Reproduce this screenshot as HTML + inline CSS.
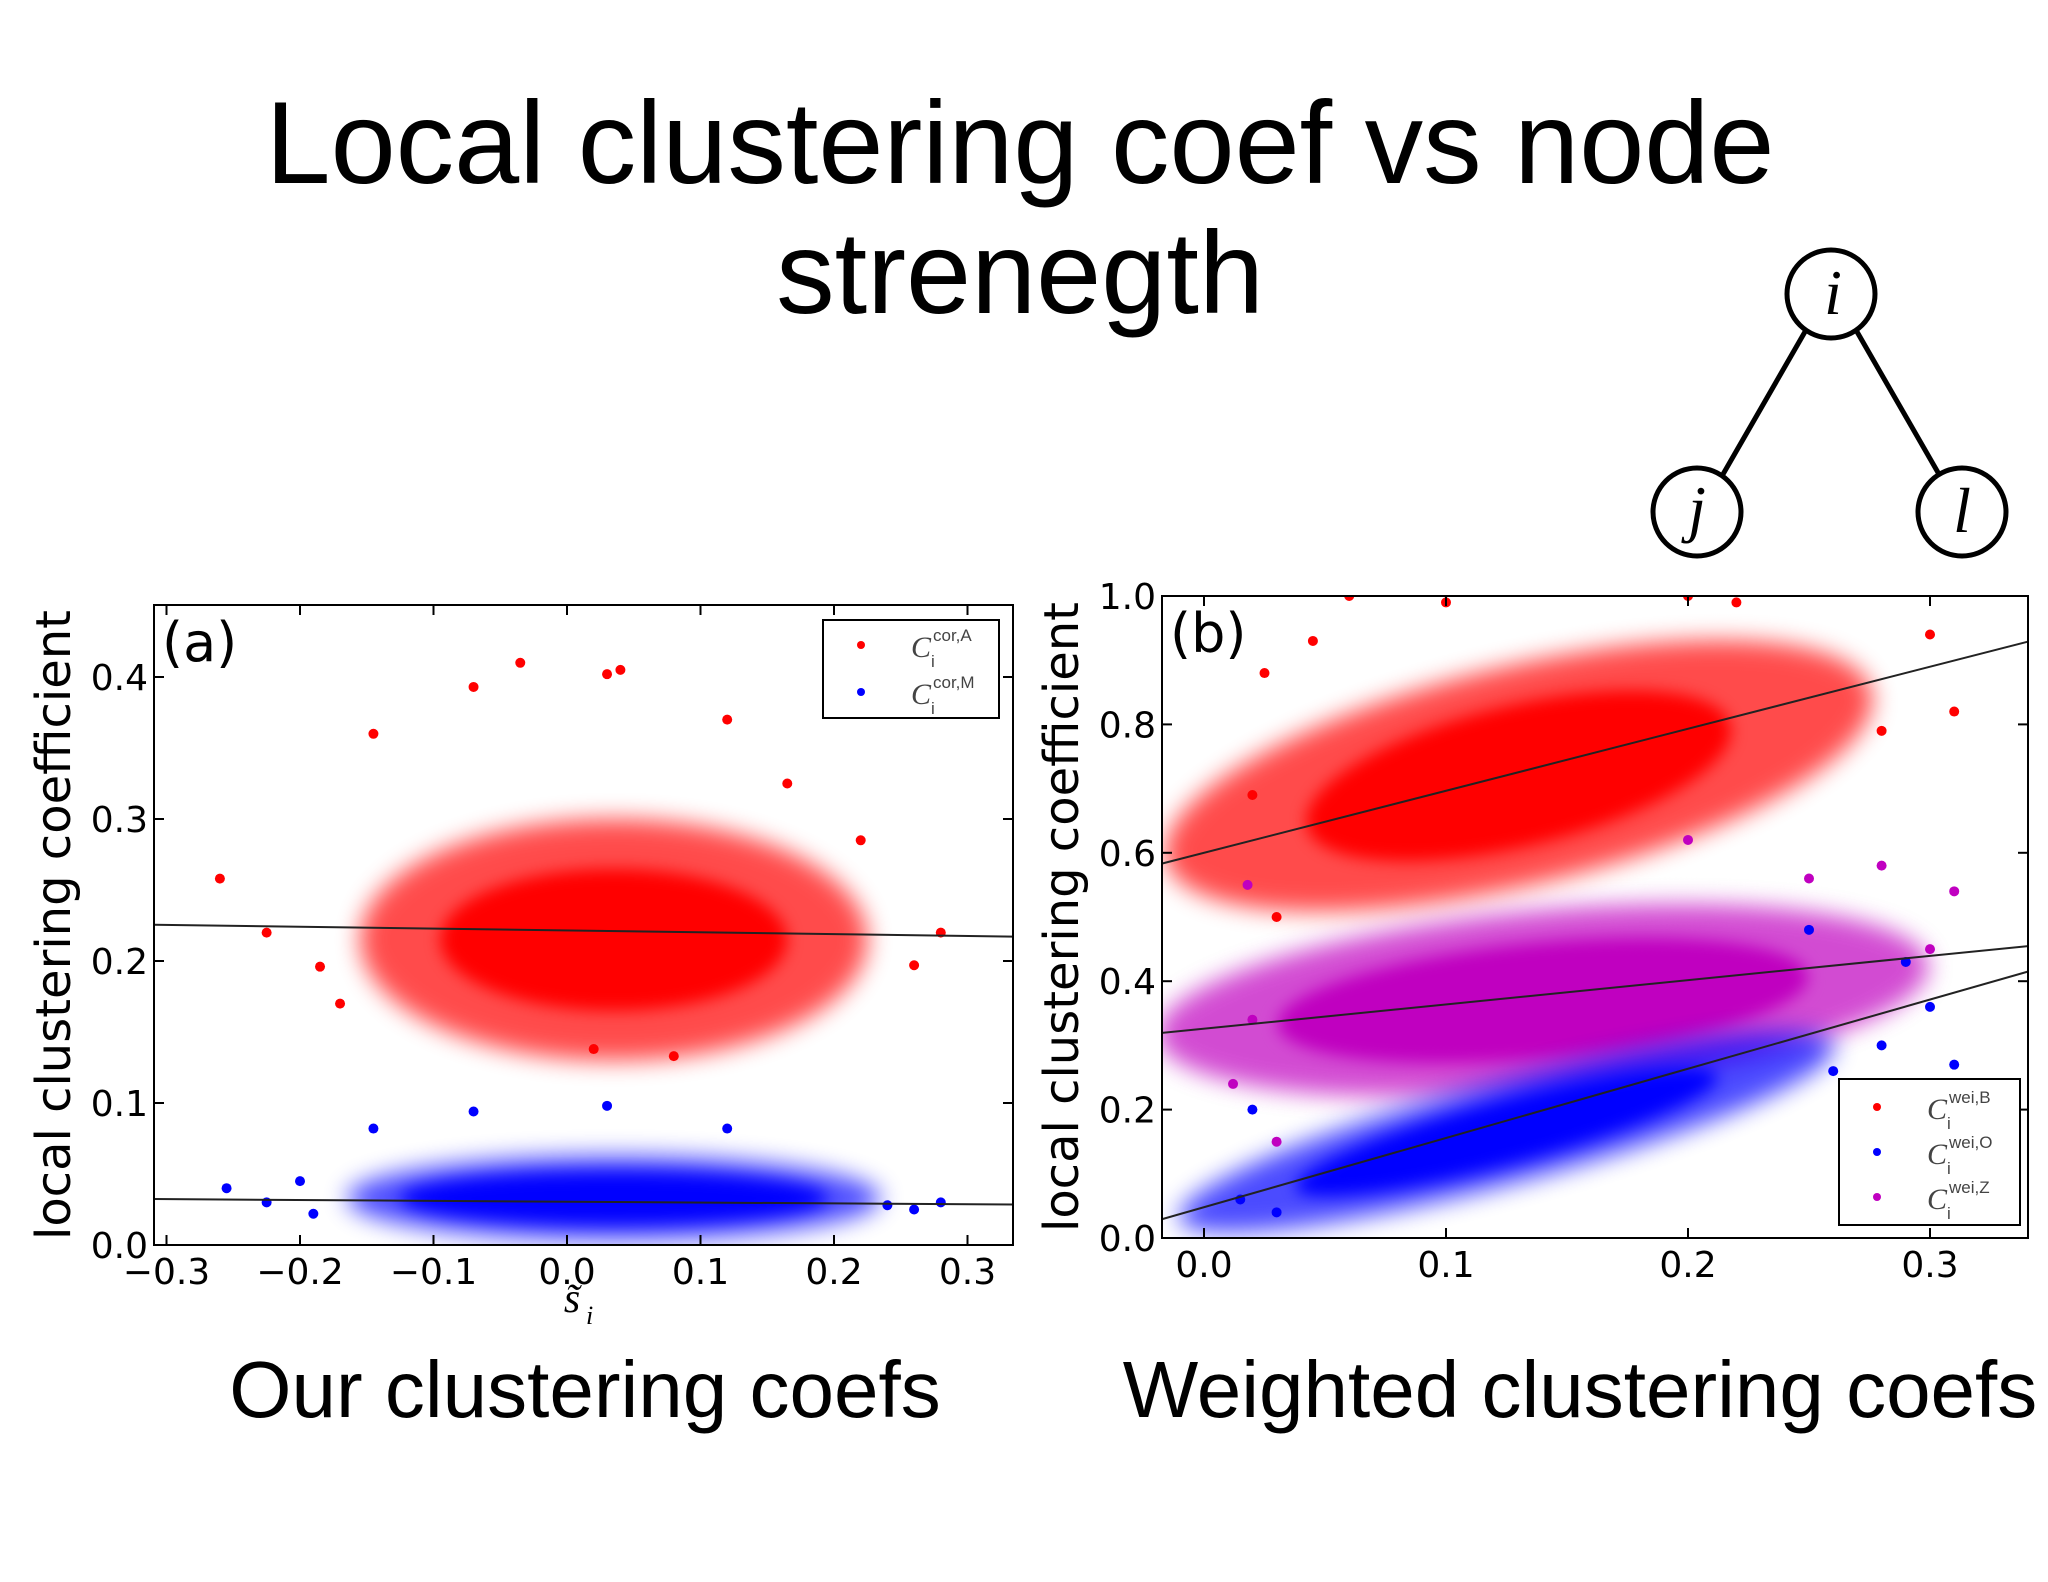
<!DOCTYPE html>
<html><head><meta charset="utf-8">
<style>
body{margin:0;background:#fff;}
svg{display:block;}
.t{font-family:"DejaVu Sans","Liberation Sans",sans-serif;fill:#000;}
</style></head>
<body>
<svg id="root" width="2048" height="1582" viewBox="0 0 2048 1582" xmlns="http://www.w3.org/2000/svg">
<defs>
<filter id="blur" x="-30%" y="-30%" width="160%" height="160%"><feGaussianBlur stdDeviation="8"/></filter>
<filter id="blur2" x="-30%" y="-30%" width="160%" height="160%"><feGaussianBlur stdDeviation="12"/></filter>
<clipPath id="clipA"><rect x="154" y="605" width="859" height="640"/></clipPath>
<clipPath id="clipB"><rect x="1162" y="596" width="866" height="642"/></clipPath>
</defs>
<g font-family="Liberation Sans, sans-serif" font-size="117" text-anchor="middle">
<text x="1020" y="183">Local clustering coef vs node</text>
<text x="1020" y="313">strenegth</text>
</g>
<g stroke="#000" stroke-width="5" fill="#fff">
<line x1="1806" y1="330" x2="1722" y2="476"/>
<line x1="1856" y1="330" x2="1940" y2="476"/>
<circle cx="1831" cy="294" r="44"/>
<circle cx="1697" cy="512" r="44"/>
<circle cx="1962" cy="512" r="44"/>
</g>
<g font-family="Liberation Serif, serif" font-style="italic" font-size="64" text-anchor="middle">
<text x="1833" y="314">i</text>
<text x="1697" y="530">j</text>
<text x="1962" y="532">l</text>
</g>
<g id="chartA"></g>
<g id="chartB"></g>
<g font-family="Liberation Sans, sans-serif" font-size="80" text-anchor="middle">
<text x="585" y="1417">Our clustering coefs</text>
<text x="1580" y="1417">Weighted clustering coefs</text>
</g>
</svg>
<script>
// ---- Chart (a) data ----
const aXTicks = [-0.3,-0.2,-0.1,0.0,0.1,0.2,0.3];
const aYTicks = [0.0,0.1,0.2,0.3,0.4];
const aSeries = ['cor,A','cor,M'];
const aColors = ['#ff0000','#0000ff'];
const aCenterX = [0.035, 0.035];
const aCenterY = [0.215, 0.033];
const aCoreSpreadX = [0.13, 0.16];
const aCoreSpreadY = [0.05, 0.018];
const aHaloSpreadX = [0.19, 0.2];
const aHaloSpreadY = [0.085, 0.03];
const aTilt = [0, 0];
const aIntercept = [0.2215, 0.0305];
const aSlope = [-0.013, -0.006];
const aOutliersRed = [[-0.26,0.258],[-0.225,0.22],[-0.185,0.196],[-0.145,0.36],[-0.07,0.393],[-0.035,0.41],[0.03,0.402],[0.04,0.405],[0.12,0.37],[0.28,0.22],[0.26,0.197],[0.08,0.133],[0.02,0.138],[-0.17,0.17],[0.22,0.285],[0.165,0.325]];
const aOutliersBlue = [[-0.255,0.04],[-0.225,0.03],[-0.19,0.022],[-0.145,0.082],[-0.07,0.094],[0.03,0.098],[0.12,0.082],[0.26,0.025],[0.28,0.03],[0.24,0.028],[-0.2,0.045]];
// ---- Chart (b) data ----
const bXTicks = [0.0,0.1,0.2,0.3];
const bYTicks = [0.0,0.2,0.4,0.6,0.8,1.0];
const bSeries = ['wei,B','wei,Z','wei,O'];
const bColors = ['#ff0000','#c000c0','#0000ff'];
const bCenterX = [0.13, 0.14, 0.125];
const bCenterY = [0.72, 0.37, 0.165];
const bCoreSpreadX = [0.09, 0.11, 0.09];
const bCoreSpreadY = [0.11, 0.09, 0.05];
const bHaloSpreadX = [0.15, 0.16, 0.14];
const bHaloSpreadY = [0.17, 0.14, 0.08];
const bTilt = [0.9, 0.35, 1.0];
const bIntercept = [0.60, 0.326, 0.048];
const bSlope = [0.966, 0.378, 1.078];
const bOutliersRed = [[0.02,0.69],[0.025,0.88],[0.06,1.0],[0.1,0.99],[0.2,1.0],[0.22,0.99],[0.3,0.94],[0.31,0.82],[0.28,0.79],[0.03,0.5],[0.045,0.93]];
const bOutliersMag = [[0.012,0.24],[0.018,0.55],[0.02,0.34],[0.31,0.54],[0.3,0.45],[0.28,0.58],[0.25,0.56],[0.2,0.62],[0.03,0.15]];
const bOutliersBlue = [[0.015,0.06],[0.02,0.2],[0.03,0.04],[0.29,0.43],[0.31,0.27],[0.3,0.36],[0.28,0.3],[0.26,0.26],[0.25,0.48]];

const NS='http://www.w3.org/2000/svg';
function mk(parent,tag,attrs){const e=document.createElementNS(NS,tag);for(const k in attrs)e.setAttribute(k,attrs[k]);parent.appendChild(e);return e;}

function drawChart(g,cfg){
  const {L,R,T,B,sx,sy,clip}=cfg;
  const plot=mk(g,'g',{'clip-path':'url(#'+clip+')'});
  
  
  for(let i=0;i<cfg.cx.length;i++){
    const px=sx(cfg.cx[i]),py=sy(cfg.cy[i]);
    const kx=sx(1)-sx(0),ky=sy(0)-sy(1);
    const ang=-Math.atan(cfg.tilt[i]*ky/kx)*180/Math.PI;
    const sg=mk(plot,'g',{transform:'translate('+px+','+py+') rotate('+ang+')',fill:cfg.colors[i]});
    
    
    mk(sg,'ellipse',{cx:0,cy:0,rx:cfg.hx[i]*kx,ry:cfg.hy[i]*ky,opacity:0.7,filter:'url(#blur2)'});
    mk(sg,'ellipse',{cx:0,cy:0,rx:cfg.kxs[i]*kx,ry:cfg.kys[i]*ky,filter:'url(#blur)'});
  }
  cfg.outliers.forEach((arr,si)=>{arr.forEach(p=>{
    const c=mk(plot,'circle',{cx:sx(p[0]),cy:sy(p[1]),r:5,fill:cfg.outColors[si]});
    
    
  });});
  const x0=cfg.xmin,x1=cfg.xmax;
  for(let i=0;i<cfg.ic.length;i++){
    const l=mk(plot,'line',{x1:sx(x0),y1:sy(cfg.ic[i]+cfg.sl[i]*x0),x2:sx(x1),y2:sy(cfg.ic[i]+cfg.sl[i]*x1),stroke:'#222','stroke-width':2});
    
    
  }
  const fr=mk(g,'rect',{x:L,y:T,width:R-L,height:B-T,fill:'none',stroke:'#000','stroke-width':2});
  
  
  cfg.xt.forEach(v=>{
    const x=sx(v);
    mk(g,'line',{x1:x,y1:B,x2:x,y2:B-10,stroke:'#000','stroke-width':2});
    mk(g,'line',{x1:x,y1:T,x2:x,y2:T+10,stroke:'#000','stroke-width':2});
    const t=mk(g,'text',{x:x,y:cfg.xlabY,'text-anchor':'middle',class:'t',style:'font-size:36px'});
    t.textContent=v.toFixed(1).replace('-','\u2212');
    
    
  });
  cfg.yt.forEach(v=>{
    const y=sy(v);
    mk(g,'line',{x1:L,y1:y,x2:L+10,y2:y,stroke:'#000','stroke-width':2});
    mk(g,'line',{x1:R,y1:y,x2:R-10,y2:y,stroke:'#000','stroke-width':2});
    const t=mk(g,'text',{x:L-6,y:y+13,'text-anchor':'end',class:'t',style:'font-size:36px'});
    t.textContent=v.toFixed(1);
    
    
  });
  const yl=mk(g,'text',{x:0,y:0,transform:'translate('+cfg.ylabX+','+((T+B)/2)+') rotate(-90)','text-anchor':'middle',class:'t',style:'font-size:48px'});
  yl.textContent='local clustering coefficient';
  
  
  const pl=mk(g,'text',{x:L+8,y:T+56,class:'t',style:'font-size:54px'});
  pl.textContent=cfg.panel;
  
  
  const lg=mk(g,'g',{});
  
  
  const lb=cfg.leg;
  mk(lg,'rect',{x:lb[0],y:lb[1],width:lb[2],height:lb[3],fill:'#fff',stroke:'#000','stroke-width':2});
  cfg.legNames.forEach((n,i)=>{
    const yy=lb[1]+cfg.legOff+i*cfg.legStep;
    const e=mk(lg,'g',{});
    
    
    mk(e,'circle',{cx:lb[0]+38,cy:yy,r:4,fill:cfg.legColors[i]});
    const t=mk(e,'text',{x:lb[0]+88,y:yy+12,'font-family':'Liberation Serif, serif','font-style':'italic','font-size':30,fill:'#444'});
    t.textContent='C';
    const s1=mk(e,'text',{x:lb[0]+108,y:yy+22,'font-family':'Liberation Sans, sans-serif','font-size':17,fill:'#444'});s1.textContent='i';
    const s2=mk(e,'text',{x:lb[0]+110,y:yy-4,'font-family':'Liberation Sans, sans-serif','font-size':17,fill:'#444'});s2.textContent=n;
  });
}

const sxA=x=>567+x*1335, syA=y=>1245-y*1420;
drawChart(document.getElementById('chartA'),{L:154,R:1013,T:605,B:1245,sx:sxA,sy:syA,clip:'clipA',
  cx:aCenterX,cy:aCenterY,kxs:aCoreSpreadX,kys:aCoreSpreadY,hx:aHaloSpreadX,hy:aHaloSpreadY,tilt:aTilt,colors:aColors,names:aSeries,
  outliers:[aOutliersRed,aOutliersBlue],outColors:aColors,ic:aIntercept,sl:aSlope,xmin:-0.32,xmax:0.34,
  xt:aXTicks,yt:aYTicks,xlabY:1284,ylabX:70,panel:'(a)',leg:[823,620,176,98],legNames:aSeries,legColors:aColors,legStep:47,legOff:25});
const xl=mk(document.getElementById('chartA'),'text',{x:572,y:1312,'text-anchor':'middle','font-family':'Liberation Serif, serif','font-style':'italic','font-size':42});
xl.textContent='s\u0303';


const xs=mk(document.getElementById('chartA'),'text',{x:586,y:1324,'font-family':'Liberation Serif, serif','font-style':'italic','font-size':26});
xs.textContent='i';

const sxB=x=>1204+x*2420, syB=y=>1238-y*642;
drawChart(document.getElementById('chartB'),{L:1162,R:2028,T:596,B:1238,sx:sxB,sy:syB,clip:'clipB',
  cx:bCenterX,cy:bCenterY,kxs:bCoreSpreadX,kys:bCoreSpreadY,hx:bHaloSpreadX,hy:bHaloSpreadY,tilt:bTilt,colors:bColors,names:bSeries,
  outliers:[bOutliersRed,bOutliersMag,bOutliersBlue],outColors:bColors,ic:bIntercept,sl:bSlope,xmin:-0.02,xmax:0.36,
  xt:bXTicks,yt:bYTicks,xlabY:1277,ylabX:1078,panel:'(b)',leg:[1839,1079,181,146],legNames:['wei,B','wei,O','wei,Z'],legColors:['#ff0000','#0000ff','#c000c0'],legStep:45,legOff:28});
</script>
</body></html>
